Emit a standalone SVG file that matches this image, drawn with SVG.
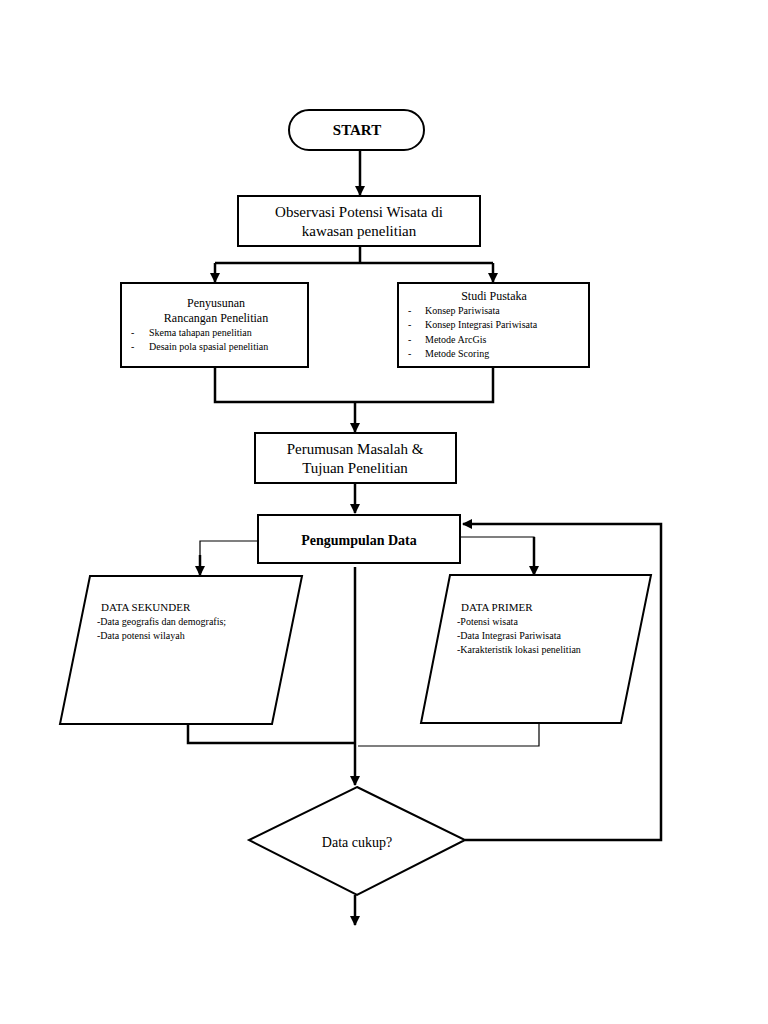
<svg xmlns="http://www.w3.org/2000/svg" width="768" height="1024" viewBox="0 0 768 1024">
<style>
.b{fill:#fff;stroke:#000;stroke-width:2}
.t{font-family:"Liberation Serif",serif;fill:#000}
.c{fill:none;stroke:#000;stroke-width:2.5}
.n{fill:none;stroke:#000;stroke-width:1.2}
</style>
<defs><marker id="a" viewBox="0 0 10 10" refX="9" refY="5" markerWidth="4" markerHeight="4" orient="auto"><path d="M0,0L10,5L0,10z" fill="#000"/></marker></defs>
<rect width="768" height="1024" fill="#fff"/>
<g id="connectors">
<path class="c" d="M360,150V195" marker-end="url(#a)"/>
<path class="c" d="M360,246V263M215,263H493"/>
<path class="c" d="M215,263V282" marker-end="url(#a)"/>
<path class="c" d="M493,263V282" marker-end="url(#a)"/>
<path class="c" d="M215,367V402H493V367"/>
<path class="c" d="M355,402V432" marker-end="url(#a)"/>
<path class="c" d="M355,483V513" marker-end="url(#a)"/>
<path class="n" d="M258,541H200V575" marker-end="url(#a)"/>
<path class="c" d="M200,555V575" marker-end="url(#a)"/>
<path class="n" d="M460,537H534V560"/>
<path class="c" d="M534,537V575" marker-end="url(#a)"/>
<path class="c" d="M465,840H661V524H463" marker-end="url(#a)"/>
<path class="c" d="M355,567V785" marker-end="url(#a)"/>
<path class="c" d="M188,724V743H355"/>
<path class="n" d="M539,723V746H358"/>
<path class="c" d="M355,895V925" marker-end="url(#a)"/>
</g>
<g id="start"><rect class="b" x="289" y="110" width="135" height="40" rx="20"/><text class="t" x="357" y="135" font-size="15" font-weight="bold" text-anchor="middle">START</text></g>
<g id="observasi"><rect class="b" x="238" y="196" width="242" height="50"/><text class="t" x="359" y="217" font-size="15" text-anchor="middle">Observasi Potensi Wisata di</text><text class="t" x="359" y="236" font-size="15" text-anchor="middle">kawasan penelitian</text></g>
<g id="penyusunan"><rect class="b" x="121" y="283" width="187" height="84"/>
<text class="t" x="216" y="307" font-size="12" text-anchor="middle">Penyusunan</text>
<text class="t" x="216" y="322" font-size="12" text-anchor="middle">Rancangan Penelitian</text>
<text class="t" x="131" y="336" font-size="10">-</text><text class="t" x="149" y="336" font-size="10">Skema tahapan penelitian</text>
<text class="t" x="131" y="350" font-size="10">-</text><text class="t" x="149" y="350" font-size="10">Desain pola spasial penelitian</text></g>
<g id="studi"><rect class="b" x="398" y="283" width="191" height="84"/>
<text class="t" x="494" y="300" font-size="12" text-anchor="middle">Studi Pustaka</text>
<text class="t" x="408" y="314" font-size="10">-</text><text class="t" x="425" y="314" font-size="10">Konsep Pariwisata</text>
<text class="t" x="408" y="328" font-size="10">-</text><text class="t" x="425" y="328" font-size="10">Konsep Integrasi Pariwisata</text>
<text class="t" x="408" y="343" font-size="10">-</text><text class="t" x="425" y="343" font-size="10">Metode ArcGis</text>
<text class="t" x="408" y="357" font-size="10">-</text><text class="t" x="425" y="357" font-size="10">Metode Scoring</text></g>
<g id="perumusan"><rect class="b" x="255" y="433" width="201" height="50"/><text class="t" x="355" y="454" font-size="15" text-anchor="middle">Perumusan Masalah &amp;</text><text class="t" x="355" y="473" font-size="15" text-anchor="middle">Tujuan Penelitian</text></g>
<g id="pengumpulan"><rect class="b" x="258" y="515" width="202" height="48" stroke-width="2.5"/><text class="t" x="359" y="545" font-size="14" font-weight="bold" text-anchor="middle">Pengumpulan Data</text></g>
<g id="sekunder"><polygon class="b" stroke-width="1" points="90,576 302,576 272,724 60,724"/>
<text class="t" x="101" y="611" font-size="11">DATA SEKUNDER</text>
<text class="t" x="97" y="625" font-size="10">-Data geografis dan demografis;</text>
<text class="t" x="97" y="639" font-size="10">-Data potensi wilayah</text></g>
<g id="primer"><polygon class="b" stroke-width="1" points="450,575 651,575 621,723 421,723"/>
<text class="t" x="461" y="611" font-size="11">DATA PRIMER</text>
<text class="t" x="457" y="625" font-size="10">-Potensi wisata</text>
<text class="t" x="457" y="639" font-size="10">-Data Integrasi Pariwisata</text>
<text class="t" x="457" y="653" font-size="10">-Karakteristik lokasi penelitian</text></g>
<g id="cukup"><polygon class="b" stroke-width="1.2" points="357,787 465,840 357,895 249,840"/><text class="t" x="357" y="847" font-size="14" text-anchor="middle">Data cukup?</text></g>
</svg>
